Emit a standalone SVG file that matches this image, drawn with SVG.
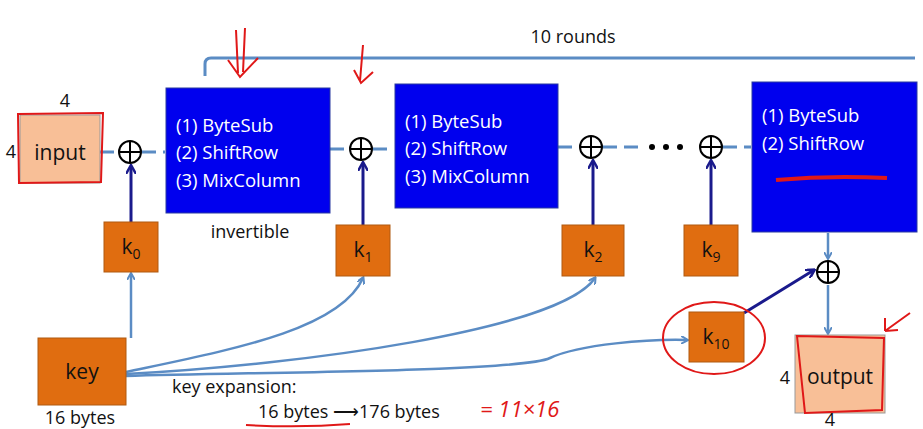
<svg xmlns="http://www.w3.org/2000/svg" width="923" height="429" viewBox="0 0 923 429">
<style>
text{font-family:"Open Sans","Liberation Sans",sans-serif;}
.blk{fill:#0000ee;stroke:#2a3aa0;stroke-width:1}
.bt{fill:#fff;font-size:18.5px}
.k{fill:#e06d10;stroke:#b05a10;stroke-width:1}
.kt{fill:#111;font-size:21px}
.io{fill:#f8bf97;stroke:#999;stroke-width:1}
.lt{fill:#111;font-size:18px}
.dash{stroke:#5b8cc4;stroke-width:3;stroke-dasharray:14 7;fill:none}
.lb{stroke:#5b8cc4;stroke-width:2.5;fill:none;marker-end:url(#al)}
.nv{stroke:#1a1a8c;stroke-width:3;fill:none;marker-end:url(#an)}
.red{stroke:#e01818;stroke-width:2;fill:none}
.x{stroke:#000;stroke-width:2;fill:none}
</style>
<defs>
<marker id="al" markerWidth="8" markerHeight="8" refX="6" refY="4" orient="auto" markerUnits="userSpaceOnUse" viewBox="0 0 8 8"><path d="M0,0 L7,4 L0,8" fill="none" stroke="#5b8cc4" stroke-width="2"/></marker>
<marker id="an" markerWidth="10" markerHeight="10" refX="8" refY="5" orient="auto" markerUnits="userSpaceOnUse" viewBox="0 0 10 10"><path d="M0,0 L9,5 L0,10" fill="none" stroke="#1a1a8c" stroke-width="2.5"/></marker>
<g id="xor"><circle r="11" class="x"/><path d="M-11,0H11M0,-11V11" class="x"/></g>
</defs>
<rect width="923" height="429" fill="#fff"/>
<g id="connectors">
<path class="dash" d="M100,152H118M142,152H165M330,149H349M373,149H394M558,147H579M603,147H640M723,147H751"/>
<path class="nv" d="M131,222V166"/>
<path class="nv" d="M363,225V163"/>
<path class="nv" d="M593,225V161"/>
<path class="nv" d="M711,225V161"/>
<path class="nv" d="M744,313L814,270"/>
<path class="lb" d="M828,233V258"/>
<path class="lb" d="M828,285V333"/>
<path class="lb" d="M131,338V274"/>
<path class="lb" d="M126,372C230,350 340,330 363,278"/>
<path class="lb" d="M126,374C300,365 560,330 595,278"/>
<path class="lb" d="M126,376C250,372 520,372 550,358C580,344 650,339 687,340"/>
<path d="M205,76V64Q205,58 211,58H915" stroke="#5b8cc4" stroke-width="3" fill="none"/>
</g>
<text x="573" y="43" text-anchor="middle" class="lt" font-size="20">10 rounds</text>
<g id="input"><rect x="20" y="115" width="80" height="68" class="io"/><text x="60" y="160" text-anchor="middle" class="kt">input</text><text x="65" y="107" text-anchor="middle" class="lt">4</text><text x="11" y="158" text-anchor="middle" class="lt">4</text>
<path class="red" d="M18,114L103,113L101,182L19,183Z"/></g>
<g id="x1"><use href="#xor" x="130" y="152"/></g>
<g id="x2"><use href="#xor" x="361" y="149"/></g>
<g id="x3"><use href="#xor" x="591" y="147"/></g>
<g id="dots"><circle cx="652" cy="147" r="3"/><circle cx="666" cy="147" r="3"/><circle cx="680" cy="147" r="3"/></g>
<g id="x4"><use href="#xor" x="711" y="147"/></g>
<g id="x5"><use href="#xor" x="828" y="272"/></g>
<g id="round1"><rect x="166" y="88" width="164" height="125" class="blk"/><text class="bt" x="176" y="132">(1)  ByteSub</text><text class="bt" x="176" y="159">(2)  ShiftRow</text><text class="bt" x="176" y="187">(3)  MixColumn</text><text x="250" y="238" text-anchor="middle" class="lt">invertible</text></g>
<g id="round2"><rect x="395" y="84" width="163" height="124" class="blk"/><text class="bt" x="405" y="128">(1)  ByteSub</text><text class="bt" x="405" y="155">(2)  ShiftRow</text><text class="bt" x="405" y="183">(3)  MixColumn</text></g>
<g id="round10"><rect x="752" y="82" width="165" height="150" class="blk"/><text class="bt" x="762" y="122">(1)  ByteSub</text><text class="bt" x="762" y="150">(2)  ShiftRow</text><path d="M776,180Q830,175 887,178" stroke="#e01818" stroke-width="4" fill="none"/></g>
<g id="k0"><rect x="104" y="222" width="54" height="50" class="k"/><text x="131" y="254" text-anchor="middle" class="kt">k<tspan font-size="14" dy="5">0</tspan></text></g>
<g id="k1"><rect x="336" y="225" width="54" height="51" class="k"/><text x="363" y="257" text-anchor="middle" class="kt">k<tspan font-size="14" dy="5">1</tspan></text></g>
<g id="k2"><rect x="562" y="225" width="62" height="51" class="k"/><text x="593" y="257" text-anchor="middle" class="kt">k<tspan font-size="14" dy="5">2</tspan></text></g>
<g id="k9"><rect x="684" y="225" width="54" height="51" class="k"/><text x="711" y="257" text-anchor="middle" class="kt">k<tspan font-size="14" dy="5">9</tspan></text></g>
<g id="k10"><rect x="689" y="312" width="55" height="50" class="k"/><text x="716" y="344" text-anchor="middle" class="kt">k<tspan font-size="14" dy="5">10</tspan></text><ellipse cx="714" cy="338" rx="51" ry="36" class="red"/></g>
<g id="key"><rect x="38" y="338" width="88" height="67" class="k"/><text x="82" y="379" text-anchor="middle" class="kt" font-size="23">key</text><text x="80" y="424" text-anchor="middle" class="lt">16 bytes</text></g>
<g id="output"><rect x="795" y="335" width="90" height="78" class="io"/><text x="840" y="384" text-anchor="middle" class="kt">output</text><text x="785" y="384" text-anchor="middle" class="lt">4</text><text x="830" y="426" text-anchor="middle" class="lt" font-size="16">4</text>
<path class="red" d="M797,336L884,338L882,410L805,413Z"/><path class="red" d="M885,331L910,313M885,331L885,318M885,331L898,330"/></g>
<g id="note"><text x="172" y="393" class="lt">key expansion:</text><text x="258" y="418" class="lt">16 bytes ⟶176 bytes</text><path class="red" d="M246,425Q300,428 350,424"/><text x="480" y="417" fill="#e01818" font-size="22" font-style="italic" font-family="'Liberation Serif',serif">= 11×16</text></g>
<g id="marks"><path class="red" d="M236,30L238,73M245,28L243,72M228,60L240,77L258,58M363,45L360,81M354,70L361,83L373,72"/></g>
</svg>
